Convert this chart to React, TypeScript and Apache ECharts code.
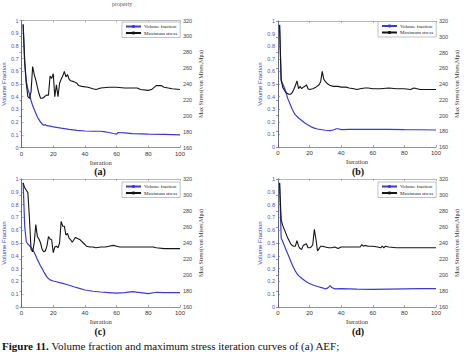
import React, { useEffect, useRef } from "react";
import * as echarts from "echarts";

// ---------- data (iteration, value) ----------
const xTicks = [0, 20, 40, 60, 80, 100];
const vfTicks = [0, 0.1, 0.2, 0.3, 0.4, 0.5, 0.6, 0.7, 0.8, 0.9, 1];
const stressTicks = [160, 180, 200, 220, 240, 260, 280, 300, 320];
const seriesNames = ["Volume fraction", "Maximum stress"];
const panelLabels = ["(a)", "(b)", "(c)", "(d)"];

const vfA = [[1,0.97],[2,0.65],[3,0.52],[4,0.46],[5,0.42],[6,0.37],[7,0.33],[8,0.3],[9,0.27],[10,0.24],[11,0.22],[12,0.2],[13,0.185],[14,0.175],[15,0.18],[16,0.172],[18,0.168],[20,0.163],[25,0.152],[30,0.142],[35,0.135],[40,0.13],[45,0.128],[50,0.128],[52,0.125],[55,0.118],[58,0.11],[60,0.105],[61,0.118],[65,0.115],[70,0.11],[80,0.105],[90,0.103],[100,0.1]];
const stressA = [[1,315],[2,270],[3,240],[4,224],[5,222],[6,230],[7,262],[8,252],[9,245],[10,236],[11,228],[12,222],[13,222],[14,223],[15,225],[16,226],[17,226],[18,250],[19,247],[20,253],[21,224],[22,239],[23,224],[24,241],[25,246],[26,250],[27,256],[28,249],[29,252],[30,246],[31,244],[33,243],[35,241],[36,238],[38,237],[42,236],[45,234],[47,233],[50,235],[55,236],[60,236],[65,235],[70,235],[73,235],[75,233],[80,232],[82,233],[85,238],[88,238],[90,236],[95,234],[100,233]];

const vfB = [[1,0.97],[2,0.53],[3,0.5],[4,0.47],[5,0.44],[6,0.39],[7,0.36],[8,0.33],[9,0.3],[10,0.275],[11,0.255],[13,0.23],[15,0.21],[17,0.19],[19,0.175],[21,0.16],[23,0.15],[25,0.143],[28,0.137],[30,0.133],[33,0.13],[35,0.135],[37,0.145],[38,0.145],[40,0.138],[45,0.14],[50,0.14],[60,0.14],[70,0.14],[80,0.138],[90,0.137],[100,0.135]];
const stressB = [[1,315],[2,245],[3,236],[4,232],[5,229],[6,228],[7,227],[8,227],[9,229],[10,233],[11,238],[12,244],[13,234],[14,237],[15,234],[16,236],[17,237],[18,239],[19,234],[20,233],[22,234],[24,236],[26,239],[27,243],[28,256],[29,246],[30,243],[31,241],[33,238],[35,237],[38,237],[40,236],[43,236],[45,235],[48,234],[50,233],[52,234],[55,235],[57,235],[60,234],[65,234],[70,235],[75,234],[80,234],[84,233],[86,235],[88,234],[90,233],[95,233],[100,233]];

const vfC = [[1,0.97],[2,0.63],[3,0.51],[4,0.49],[5,0.48],[6,0.465],[7,0.45],[8,0.425],[9,0.4],[10,0.37],[11,0.345],[12,0.32],[13,0.3],[14,0.275],[15,0.255],[16,0.235],[17,0.222],[18,0.212],[20,0.203],[22,0.197],[24,0.19],[26,0.185],[28,0.178],[30,0.17],[33,0.158],[36,0.147],[40,0.133],[45,0.123],[50,0.117],[55,0.113],[60,0.108],[65,0.112],[70,0.12],[75,0.113],[80,0.105],[85,0.115],[90,0.113],[100,0.113]];
const stressC = [[1,315],[2,309],[3,306],[4,303],[5,270],[6,232],[7,229],[8,240],[9,263],[10,248],[11,245],[12,240],[13,232],[14,229],[15,230],[16,236],[17,248],[18,245],[19,244],[20,228],[21,235],[22,236],[23,234],[24,240],[25,267],[26,261],[27,261],[28,250],[29,252],[30,246],[31,244],[32,241],[33,244],[34,247],[35,246],[37,244],[39,240],[41,236],[43,235],[45,235],[47,234],[50,235],[53,235],[55,236],[58,237],[60,236],[62,235],[65,235],[70,235],[75,235],[80,235],[83,235],[85,234],[90,233],[95,233],[100,233]];

const vfD = [[1,0.97],[2,0.54],[3,0.51],[4,0.48],[5,0.45],[6,0.42],[7,0.39],[8,0.36],[9,0.33],[10,0.305],[11,0.28],[12,0.26],[13,0.245],[15,0.225],[17,0.205],[19,0.19],[21,0.178],[23,0.168],[25,0.16],[28,0.15],[30,0.142],[31,0.145],[32,0.155],[33,0.167],[34,0.152],[36,0.142],[40,0.143],[45,0.142],[50,0.14],[60,0.137],[70,0.14],[80,0.142],[90,0.143],[100,0.143]];
const stressD = [[1,315],[2,269],[3,262],[4,257],[5,252],[6,247],[7,243],[8,239],[9,237],[10,236],[11,236],[12,243],[13,236],[14,233],[15,232],[16,237],[17,238],[18,239],[19,234],[20,234],[21,235],[22,238],[23,257],[24,245],[25,230],[26,233],[27,236],[28,236],[30,235],[32,234],[34,234],[36,235],[38,233],[40,235],[42,235],[45,235],[48,235],[50,235],[52,235],[53,238],[54,236],[55,237],[57,236],[60,236],[63,235],[65,234],[66,236],[67,234],[68,236],[70,235],[75,234],[80,234],[90,234],[100,234]];

const vfSeries = [vfA, vfB, vfC, vfD];
const stressSeries = [stressA, stressB, stressC, stressD];

// ---------- layout ----------
const grids = [
  { left: 21, top: 20.5, width: 159, height: 127 },
  { left: 278, top: 21, width: 158, height: 126 },
  { left: 21, top: 179, width: 159, height: 128 },
  { left: 278, top: 179, width: 158, height: 128 },
];
const legendPos = [
  { left: 122, top: 22 },
  { left: 378, top: 21.5 },
  { left: 122, top: 182 },
  { left: 378, top: 182 },
];
const labelPos = [
  { x: 100, y: 171 },
  { x: 358, y: 171 },
  { x: 100, y: 331 },
  { x: 358, y: 331 },
];

const BLUE = "#3b3bd2";
const SANS = "Liberation Sans";
const SERIF = "Liberation Serif";

export default function App() {
  const ref = useRef<HTMLDivElement>(null);
  useEffect(() => {
    if (!ref.current) return;
    const chart = echarts.init(ref.current, undefined, { renderer: "svg" });

    const xAxis: any[] = [];
    const yAxis: any[] = [];
    const series: any[] = [];
    const legend: any[] = [];

    grids.forEach((g, i) => {
      xAxis.push({
        type: "value", gridIndex: i, min: xTicks[0], max: xTicks[xTicks.length - 1], interval: 20,
        position: "bottom",
        name: "Iteration", nameLocation: "middle", nameGap: 11,
        nameTextStyle: { fontFamily: SERIF, fontSize: 6.5, color: "#333" },
        axisLine: { lineStyle: { color: "#666", width: 0.7 } },
        axisTick: { inside: true, length: 2, lineStyle: { color: "#666", width: 0.6 } },
        axisLabel: { fontFamily: SANS, fontSize: 6, color: "#333", margin: 3 },
        splitLine: { show: false },
      });
      xAxis.push({
        type: "value", gridIndex: i, min: 0, max: 100, interval: 20, position: "top",
        axisLine: { onZero: false, lineStyle: { color: "#888", width: 0.6 } },
        axisTick: { inside: true, length: 2, lineStyle: { color: "#888", width: 0.6 } },
        axisLabel: { show: false }, splitLine: { show: false },
      });
      yAxis.push({
        type: "value", gridIndex: i, min: vfTicks[0], max: vfTicks[vfTicks.length - 1], interval: 0.1,
        position: "left",
        name: "Volume Fraction", nameLocation: "middle", nameGap: 13,
        nameTextStyle: { fontFamily: SANS, fontSize: 6, color: BLUE },
        axisLine: { show: true, lineStyle: { color: "#6a6ad0", width: 0.7 } },
        axisTick: { show: true, inside: true, length: 2, lineStyle: { color: "#6a6ad0", width: 0.6 } },
        axisLabel: { fontFamily: SANS, fontSize: 5.5, color: "#5050d0", margin: 3 },
        splitLine: { show: false },
      });
      yAxis.push({
        type: "value", gridIndex: i, min: stressTicks[0], max: stressTicks[stressTicks.length - 1], interval: 20,
        position: "right",
        name: "Max Stress(von Mises,Mpa)", nameLocation: "middle", nameGap: 18,
        nameTextStyle: { fontFamily: SERIF, fontSize: 6, color: "#333" },
        axisLine: { show: true, lineStyle: { color: "#555", width: 0.7 } },
        axisTick: { show: true, inside: true, length: 2, lineStyle: { color: "#555", width: 0.6 } },
        axisLabel: { fontFamily: SANS, fontSize: 5.5, color: "#444", margin: 3 },
        splitLine: { show: false },
      });
      series.push({
        name: seriesNames[0], type: "line", xAxisIndex: i * 2, yAxisIndex: i * 2,
        data: vfSeries[i], showSymbol: false, symbol: "none",
        lineStyle: { color: BLUE, width: 1.2 }, itemStyle: { color: BLUE },
      });
      series.push({
        name: seriesNames[1], type: "line", xAxisIndex: i * 2, yAxisIndex: i * 2 + 1,
        data: stressSeries[i], showSymbol: false, symbol: "none",
        lineStyle: { color: "#151515", width: 1.1 }, itemStyle: { color: "#151515" },
      });
      legend.push({
        ...legendPos[i], orient: "vertical", data: seriesNames,
        itemWidth: 15, itemHeight: 4, itemGap: 1.5, padding: [2, 3, 2, 3],
        borderColor: "#999", borderWidth: 0.6, backgroundColor: "#fff",
        textStyle: { fontFamily: SERIF, fontSize: 5, color: "#222", padding: [0, 0, 0, -2] },
        selectedMode: false,
      });
    });

    const graphic: any[] = panelLabels.map((t, i) => ({
      type: "text", x: labelPos[i].x, y: labelPos[i].y,
      style: { text: t, font: `bold 10px ${SERIF}`, fill: "#111", align: "center", verticalAlign: "middle" },
    }));
    graphic.push({
      type: "text", x: 112, y: 1,
      style: { text: "property", font: `6px ${SERIF}`, fill: "#555", verticalAlign: "top" },
    });
    graphic.push({
      type: "text", x: 2, y: 340,
      style: {
        text: "{b|Figure 11.} Volume fraction and maximum stress iteration curves of (a) AEF;",
        font: `11px ${SERIF}`, fill: "#111", verticalAlign: "top",
        rich: { b: { fontFamily: SERIF, fontSize: 11, fontWeight: "bold", fill: "#111" } },
      },
    });

    chart.setOption({
      animation: false,
      backgroundColor: "#fff",
      grid: grids.map((g) => ({ ...g, containLabel: false })),
      xAxis, yAxis, series, legend, graphic,
    });
    return () => chart.dispose();
  }, []);
  return (
    <div
      ref={ref}
      style={{ position: "fixed", left: 0, top: 0, width: 474, height: 352, background: "#fff" }}
    />
  );
}
